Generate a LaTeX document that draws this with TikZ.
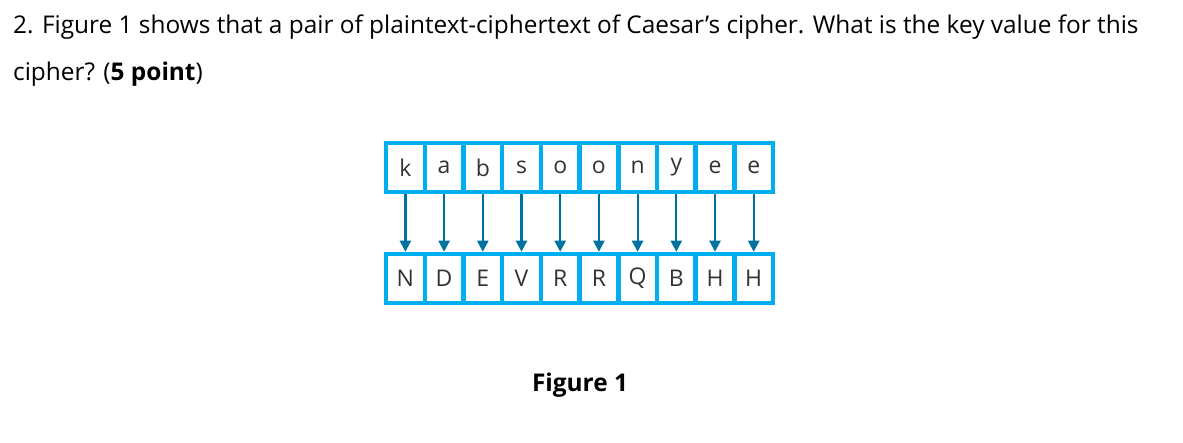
\documentclass[tikz,border=0pt]{standalone}
\usepackage{fontspec}
\setmainfont{Open Sans}
\definecolor{cellc}{RGB}{0,174,239}
\definecolor{arrc}{RGB}{0,114,160}
\usetikzlibrary{arrows.meta}
\begin{document}
\begin{tikzpicture}[x=1pt,y=-1pt,
  cell/.style={draw=cellc,line width=4.5pt,minimum width=38.7pt,minimum height=49pt,inner sep=0pt,font=\fontsize{23}{23}\selectfont,text=black!80},
  arr/.style={draw=arrc,line width=2.2pt,-{Triangle[length=11pt,width=11pt]}},
  txt/.style={anchor=west,inner sep=0pt,font=\fontsize{24.4}{28}\selectfont}]
\useasboundingbox (0,0) rectangle (1183,443);
\node[txt] (l1) at (13,27) {2. Figure 1 shows that a pair of plaintext-ciphertext of Caesar's cipher. What is the key value for this};
\node[txt] (l2) at (13,74) {cipher? (\textbf{5 point})};
\foreach \p [count=\i from 0] in {k,a,b,s,o,o,n,y,e,e}
  \node[cell] (p\i) at (405.4+38.7*\i,167.5) {\p};
\foreach \c [count=\i from 0] in {N,D,E,V,R,R,Q,B,H,H}
  \node[cell] (c\i) at (405.4+38.7*\i,278.5) {\c};
\foreach \i in {0,...,9}
  \draw[arr] (p\i.south) -- (c\i.north);
\node[font=\fontsize{24.4}{28}\selectfont\bfseries] (cap) at (580,385) {Figure 1};
\end{tikzpicture}
\end{document}
